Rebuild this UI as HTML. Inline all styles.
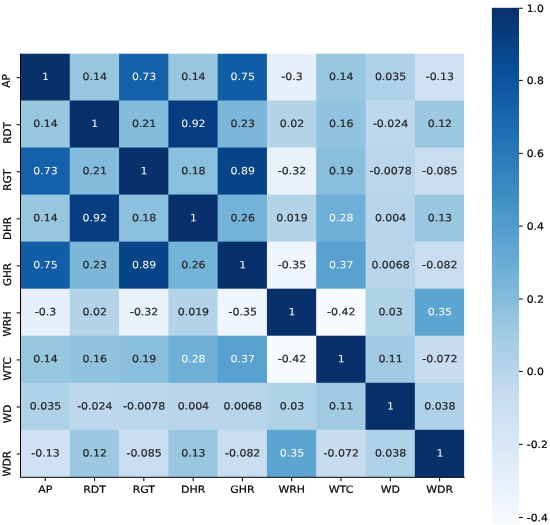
<!DOCTYPE html>
<html><head><meta charset="utf-8"><title>Correlation heatmap</title>
<style>html,body{margin:0;padding:0;background:#fff}body{width:550px;height:525px;overflow:hidden}svg{display:block;text-rendering:geometricPrecision;font-family:"DejaVu Sans","Liberation Sans",sans-serif;font-size:10px}</style></head><body>
<svg width="550" height="525" viewBox="0 0 550 525">
<rect width="550" height="525" fill="#ffffff"/>
<defs><linearGradient id="cb" x1="0" y1="0" x2="0" y2="1"><stop offset="0.0000" stop-color="#08306b"/><stop offset="0.0208" stop-color="#083573"/><stop offset="0.0417" stop-color="#083a7a"/><stop offset="0.0625" stop-color="#084082"/><stop offset="0.0833" stop-color="#08468b"/><stop offset="0.1042" stop-color="#084b93"/><stop offset="0.1250" stop-color="#08509b"/><stop offset="0.1458" stop-color="#0c56a0"/><stop offset="0.1667" stop-color="#105ba4"/><stop offset="0.1875" stop-color="#1460a8"/><stop offset="0.2083" stop-color="#1966ad"/><stop offset="0.2292" stop-color="#1c6bb0"/><stop offset="0.2500" stop-color="#2070b4"/><stop offset="0.2708" stop-color="#2676b8"/><stop offset="0.2917" stop-color="#2c7cba"/><stop offset="0.3125" stop-color="#3181bd"/><stop offset="0.3333" stop-color="#3787c0"/><stop offset="0.3542" stop-color="#3c8cc3"/><stop offset="0.3750" stop-color="#4191c6"/><stop offset="0.3958" stop-color="#4997c9"/><stop offset="0.4167" stop-color="#4f9bcb"/><stop offset="0.4375" stop-color="#56a0ce"/><stop offset="0.4583" stop-color="#5da5d1"/><stop offset="0.4792" stop-color="#64a9d3"/><stop offset="0.5000" stop-color="#6aaed6"/><stop offset="0.5208" stop-color="#74b3d8"/><stop offset="0.5417" stop-color="#7cb7da"/><stop offset="0.5625" stop-color="#84bcdb"/><stop offset="0.5833" stop-color="#8dc1dd"/><stop offset="0.6042" stop-color="#95c5df"/><stop offset="0.6250" stop-color="#9dcae1"/><stop offset="0.6458" stop-color="#a5cde3"/><stop offset="0.6667" stop-color="#abd0e6"/><stop offset="0.6875" stop-color="#b2d2e8"/><stop offset="0.7083" stop-color="#b9d6ea"/><stop offset="0.7292" stop-color="#bfd8ed"/><stop offset="0.7500" stop-color="#c6dbef"/><stop offset="0.7708" stop-color="#cadef0"/><stop offset="0.7917" stop-color="#cee0f2"/><stop offset="0.8125" stop-color="#d2e3f3"/><stop offset="0.8333" stop-color="#d6e6f4"/><stop offset="0.8542" stop-color="#dae8f6"/><stop offset="0.8750" stop-color="#deebf7"/><stop offset="0.8958" stop-color="#e3eef8"/><stop offset="0.9167" stop-color="#e7f0fa"/><stop offset="0.9375" stop-color="#eaf3fb"/><stop offset="0.9583" stop-color="#eff6fc"/><stop offset="0.9792" stop-color="#f3f8fe"/><stop offset="1.0000" stop-color="#f7fbff"/></linearGradient></defs>
<g>
<rect x="20.46" y="53.71" width="49.90" height="47.39" fill="#08306b"/>
<rect x="69.76" y="53.71" width="49.90" height="47.39" fill="#97c6df"/>
<rect x="119.05" y="53.71" width="49.90" height="47.39" fill="#1561a9"/>
<rect x="168.35" y="53.71" width="49.90" height="47.39" fill="#97c6df"/>
<rect x="217.64" y="53.71" width="49.90" height="47.39" fill="#125ea6"/>
<rect x="266.94" y="53.71" width="49.90" height="47.39" fill="#e7f0fa"/>
<rect x="316.23" y="53.71" width="49.90" height="47.39" fill="#97c6df"/>
<rect x="365.53" y="53.71" width="49.90" height="47.39" fill="#afd1e7"/>
<rect x="414.82" y="53.71" width="49.30" height="47.39" fill="#cfe1f2"/>
<rect x="20.46" y="100.50" width="49.90" height="47.64" fill="#97c6df"/>
<rect x="69.76" y="100.50" width="49.90" height="47.64" fill="#08306b"/>
<rect x="119.05" y="100.50" width="49.90" height="47.64" fill="#82bbdb"/>
<rect x="168.35" y="100.50" width="49.90" height="47.64" fill="#083e81"/>
<rect x="217.64" y="100.50" width="49.90" height="47.64" fill="#7cb7da"/>
<rect x="266.94" y="100.50" width="49.90" height="47.64" fill="#b3d3e8"/>
<rect x="316.23" y="100.50" width="49.90" height="47.64" fill="#91c3de"/>
<rect x="365.53" y="100.50" width="49.90" height="47.64" fill="#bdd7ec"/>
<rect x="414.82" y="100.50" width="49.30" height="47.64" fill="#9cc9e1"/>
<rect x="20.46" y="147.55" width="49.90" height="47.64" fill="#1561a9"/>
<rect x="69.76" y="147.55" width="49.90" height="47.64" fill="#82bbdb"/>
<rect x="119.05" y="147.55" width="49.90" height="47.64" fill="#08306b"/>
<rect x="168.35" y="147.55" width="49.90" height="47.64" fill="#8abfdd"/>
<rect x="217.64" y="147.55" width="49.90" height="47.64" fill="#084488"/>
<rect x="266.94" y="147.55" width="49.90" height="47.64" fill="#e9f2fa"/>
<rect x="316.23" y="147.55" width="49.90" height="47.64" fill="#89bedc"/>
<rect x="365.53" y="147.55" width="49.90" height="47.64" fill="#b9d6ea"/>
<rect x="414.82" y="147.55" width="49.30" height="47.64" fill="#c9ddf0"/>
<rect x="20.46" y="194.59" width="49.90" height="47.64" fill="#97c6df"/>
<rect x="69.76" y="194.59" width="49.90" height="47.64" fill="#083e81"/>
<rect x="119.05" y="194.59" width="49.90" height="47.64" fill="#8abfdd"/>
<rect x="168.35" y="194.59" width="49.90" height="47.64" fill="#08306b"/>
<rect x="217.64" y="194.59" width="49.90" height="47.64" fill="#74b3d8"/>
<rect x="266.94" y="194.59" width="49.90" height="47.64" fill="#b3d3e8"/>
<rect x="316.23" y="194.59" width="49.90" height="47.64" fill="#6dafd7"/>
<rect x="365.53" y="194.59" width="49.90" height="47.64" fill="#b7d4ea"/>
<rect x="414.82" y="194.59" width="49.30" height="47.64" fill="#99c7e0"/>
<rect x="20.46" y="241.63" width="49.90" height="47.64" fill="#125ea6"/>
<rect x="69.76" y="241.63" width="49.90" height="47.64" fill="#7cb7da"/>
<rect x="119.05" y="241.63" width="49.90" height="47.64" fill="#084488"/>
<rect x="168.35" y="241.63" width="49.90" height="47.64" fill="#74b3d8"/>
<rect x="217.64" y="241.63" width="49.90" height="47.64" fill="#08306b"/>
<rect x="266.94" y="241.63" width="49.90" height="47.64" fill="#eef5fc"/>
<rect x="316.23" y="241.63" width="49.90" height="47.64" fill="#58a1cf"/>
<rect x="365.53" y="241.63" width="49.90" height="47.64" fill="#b7d4ea"/>
<rect x="414.82" y="241.63" width="49.30" height="47.64" fill="#c9ddf0"/>
<rect x="20.46" y="288.68" width="49.90" height="47.64" fill="#e7f0fa"/>
<rect x="69.76" y="288.68" width="49.90" height="47.64" fill="#b3d3e8"/>
<rect x="119.05" y="288.68" width="49.90" height="47.64" fill="#e9f2fa"/>
<rect x="168.35" y="288.68" width="49.90" height="47.64" fill="#b3d3e8"/>
<rect x="217.64" y="288.68" width="49.90" height="47.64" fill="#eef5fc"/>
<rect x="266.94" y="288.68" width="49.90" height="47.64" fill="#08306b"/>
<rect x="316.23" y="288.68" width="49.90" height="47.64" fill="#f7fbff"/>
<rect x="365.53" y="288.68" width="49.90" height="47.64" fill="#b0d2e7"/>
<rect x="414.82" y="288.68" width="49.30" height="47.64" fill="#5da5d1"/>
<rect x="20.46" y="335.72" width="49.90" height="47.64" fill="#97c6df"/>
<rect x="69.76" y="335.72" width="49.90" height="47.64" fill="#91c3de"/>
<rect x="119.05" y="335.72" width="49.90" height="47.64" fill="#89bedc"/>
<rect x="168.35" y="335.72" width="49.90" height="47.64" fill="#6dafd7"/>
<rect x="217.64" y="335.72" width="49.90" height="47.64" fill="#58a1cf"/>
<rect x="266.94" y="335.72" width="49.90" height="47.64" fill="#f7fbff"/>
<rect x="316.23" y="335.72" width="49.90" height="47.64" fill="#08306b"/>
<rect x="365.53" y="335.72" width="49.90" height="47.64" fill="#9fcae1"/>
<rect x="414.82" y="335.72" width="49.30" height="47.64" fill="#c7dcef"/>
<rect x="20.46" y="382.76" width="49.90" height="47.64" fill="#afd1e7"/>
<rect x="69.76" y="382.76" width="49.90" height="47.64" fill="#bdd7ec"/>
<rect x="119.05" y="382.76" width="49.90" height="47.64" fill="#b9d6ea"/>
<rect x="168.35" y="382.76" width="49.90" height="47.64" fill="#b7d4ea"/>
<rect x="217.64" y="382.76" width="49.90" height="47.64" fill="#b7d4ea"/>
<rect x="266.94" y="382.76" width="49.90" height="47.64" fill="#b0d2e7"/>
<rect x="316.23" y="382.76" width="49.90" height="47.64" fill="#9fcae1"/>
<rect x="365.53" y="382.76" width="49.90" height="47.64" fill="#08306b"/>
<rect x="414.82" y="382.76" width="49.30" height="47.64" fill="#afd1e7"/>
<rect x="20.46" y="429.81" width="49.90" height="47.49" fill="#cfe1f2"/>
<rect x="69.76" y="429.81" width="49.90" height="47.49" fill="#9cc9e1"/>
<rect x="119.05" y="429.81" width="49.90" height="47.49" fill="#c9ddf0"/>
<rect x="168.35" y="429.81" width="49.90" height="47.49" fill="#99c7e0"/>
<rect x="217.64" y="429.81" width="49.90" height="47.49" fill="#c9ddf0"/>
<rect x="266.94" y="429.81" width="49.90" height="47.49" fill="#5da5d1"/>
<rect x="316.23" y="429.81" width="49.90" height="47.49" fill="#c7dcef"/>
<rect x="365.53" y="429.81" width="49.90" height="47.49" fill="#afd1e7"/>
<rect x="414.82" y="429.81" width="49.30" height="47.49" fill="#08306b"/>
</g>
<g text-anchor="middle" stroke-width="0.2">
<text transform="translate(45.51,80.08) scale(1.095,1) rotate(0.03)" fill="#ffffff" stroke="none">1</text>
<text transform="translate(94.80,80.08) scale(1.095,1) rotate(0.03)" fill="#262626" stroke="#262626">0.14</text>
<text transform="translate(144.10,80.08) scale(1.095,1) rotate(0.03)" fill="#ffffff" stroke="none">0.73</text>
<text transform="translate(193.39,80.08) scale(1.095,1) rotate(0.03)" fill="#262626" stroke="#262626">0.14</text>
<text transform="translate(242.69,80.08) scale(1.095,1) rotate(0.03)" fill="#ffffff" stroke="none">0.75</text>
<text transform="translate(291.99,80.08) scale(1.095,1) rotate(0.03)" fill="#262626" stroke="#262626">-0.3</text>
<text transform="translate(341.28,80.08) scale(1.095,1) rotate(0.03)" fill="#262626" stroke="#262626">0.14</text>
<text transform="translate(390.58,80.08) scale(1.095,1) rotate(0.03)" fill="#262626" stroke="#262626">0.035</text>
<text transform="translate(439.87,80.08) scale(1.095,1) rotate(0.03)" fill="#262626" stroke="#262626">-0.13</text>
<text transform="translate(45.51,127.12) scale(1.095,1) rotate(0.03)" fill="#262626" stroke="#262626">0.14</text>
<text transform="translate(94.80,127.12) scale(1.095,1) rotate(0.03)" fill="#ffffff" stroke="none">1</text>
<text transform="translate(144.10,127.12) scale(1.095,1) rotate(0.03)" fill="#262626" stroke="#262626">0.21</text>
<text transform="translate(193.39,127.12) scale(1.095,1) rotate(0.03)" fill="#ffffff" stroke="none">0.92</text>
<text transform="translate(242.69,127.12) scale(1.095,1) rotate(0.03)" fill="#262626" stroke="#262626">0.23</text>
<text transform="translate(291.99,127.12) scale(1.095,1) rotate(0.03)" fill="#262626" stroke="#262626">0.02</text>
<text transform="translate(341.28,127.12) scale(1.095,1) rotate(0.03)" fill="#262626" stroke="#262626">0.16</text>
<text transform="translate(390.58,127.12) scale(1.095,1) rotate(0.03)" fill="#262626" stroke="#262626">-0.024</text>
<text transform="translate(439.87,127.12) scale(1.095,1) rotate(0.03)" fill="#262626" stroke="#262626">0.12</text>
<text transform="translate(45.51,174.17) scale(1.095,1) rotate(0.03)" fill="#ffffff" stroke="none">0.73</text>
<text transform="translate(94.80,174.17) scale(1.095,1) rotate(0.03)" fill="#262626" stroke="#262626">0.21</text>
<text transform="translate(144.10,174.17) scale(1.095,1) rotate(0.03)" fill="#ffffff" stroke="none">1</text>
<text transform="translate(193.39,174.17) scale(1.095,1) rotate(0.03)" fill="#262626" stroke="#262626">0.18</text>
<text transform="translate(242.69,174.17) scale(1.095,1) rotate(0.03)" fill="#ffffff" stroke="none">0.89</text>
<text transform="translate(291.99,174.17) scale(1.095,1) rotate(0.03)" fill="#262626" stroke="#262626">-0.32</text>
<text transform="translate(341.28,174.17) scale(1.095,1) rotate(0.03)" fill="#262626" stroke="#262626">0.19</text>
<text transform="translate(390.58,174.17) scale(1.095,1) rotate(0.03)" fill="#262626" stroke="#262626">-0.0078</text>
<text transform="translate(439.87,174.17) scale(1.095,1) rotate(0.03)" fill="#262626" stroke="#262626">-0.085</text>
<text transform="translate(45.51,221.21) scale(1.095,1) rotate(0.03)" fill="#262626" stroke="#262626">0.14</text>
<text transform="translate(94.80,221.21) scale(1.095,1) rotate(0.03)" fill="#ffffff" stroke="none">0.92</text>
<text transform="translate(144.10,221.21) scale(1.095,1) rotate(0.03)" fill="#262626" stroke="#262626">0.18</text>
<text transform="translate(193.39,221.21) scale(1.095,1) rotate(0.03)" fill="#ffffff" stroke="none">1</text>
<text transform="translate(242.69,221.21) scale(1.095,1) rotate(0.03)" fill="#262626" stroke="#262626">0.26</text>
<text transform="translate(291.99,221.21) scale(1.095,1) rotate(0.03)" fill="#262626" stroke="#262626">0.019</text>
<text transform="translate(341.28,221.21) scale(1.095,1) rotate(0.03)" fill="#ffffff" stroke="none">0.28</text>
<text transform="translate(390.58,221.21) scale(1.095,1) rotate(0.03)" fill="#262626" stroke="#262626">0.004</text>
<text transform="translate(439.87,221.21) scale(1.095,1) rotate(0.03)" fill="#262626" stroke="#262626">0.13</text>
<text transform="translate(45.51,268.26) scale(1.095,1) rotate(0.03)" fill="#ffffff" stroke="none">0.75</text>
<text transform="translate(94.80,268.26) scale(1.095,1) rotate(0.03)" fill="#262626" stroke="#262626">0.23</text>
<text transform="translate(144.10,268.26) scale(1.095,1) rotate(0.03)" fill="#ffffff" stroke="none">0.89</text>
<text transform="translate(193.39,268.26) scale(1.095,1) rotate(0.03)" fill="#262626" stroke="#262626">0.26</text>
<text transform="translate(242.69,268.26) scale(1.095,1) rotate(0.03)" fill="#ffffff" stroke="none">1</text>
<text transform="translate(291.99,268.26) scale(1.095,1) rotate(0.03)" fill="#262626" stroke="#262626">-0.35</text>
<text transform="translate(341.28,268.26) scale(1.095,1) rotate(0.03)" fill="#ffffff" stroke="none">0.37</text>
<text transform="translate(390.58,268.26) scale(1.095,1) rotate(0.03)" fill="#262626" stroke="#262626">0.0068</text>
<text transform="translate(439.87,268.26) scale(1.095,1) rotate(0.03)" fill="#262626" stroke="#262626">-0.082</text>
<text transform="translate(45.51,315.30) scale(1.095,1) rotate(0.03)" fill="#262626" stroke="#262626">-0.3</text>
<text transform="translate(94.80,315.30) scale(1.095,1) rotate(0.03)" fill="#262626" stroke="#262626">0.02</text>
<text transform="translate(144.10,315.30) scale(1.095,1) rotate(0.03)" fill="#262626" stroke="#262626">-0.32</text>
<text transform="translate(193.39,315.30) scale(1.095,1) rotate(0.03)" fill="#262626" stroke="#262626">0.019</text>
<text transform="translate(242.69,315.30) scale(1.095,1) rotate(0.03)" fill="#262626" stroke="#262626">-0.35</text>
<text transform="translate(291.99,315.30) scale(1.095,1) rotate(0.03)" fill="#ffffff" stroke="none">1</text>
<text transform="translate(341.28,315.30) scale(1.095,1) rotate(0.03)" fill="#262626" stroke="#262626">-0.42</text>
<text transform="translate(390.58,315.30) scale(1.095,1) rotate(0.03)" fill="#262626" stroke="#262626">0.03</text>
<text transform="translate(439.87,315.30) scale(1.095,1) rotate(0.03)" fill="#ffffff" stroke="none">0.35</text>
<text transform="translate(45.51,362.34) scale(1.095,1) rotate(0.03)" fill="#262626" stroke="#262626">0.14</text>
<text transform="translate(94.80,362.34) scale(1.095,1) rotate(0.03)" fill="#262626" stroke="#262626">0.16</text>
<text transform="translate(144.10,362.34) scale(1.095,1) rotate(0.03)" fill="#262626" stroke="#262626">0.19</text>
<text transform="translate(193.39,362.34) scale(1.095,1) rotate(0.03)" fill="#ffffff" stroke="none">0.28</text>
<text transform="translate(242.69,362.34) scale(1.095,1) rotate(0.03)" fill="#ffffff" stroke="none">0.37</text>
<text transform="translate(291.99,362.34) scale(1.095,1) rotate(0.03)" fill="#262626" stroke="#262626">-0.42</text>
<text transform="translate(341.28,362.34) scale(1.095,1) rotate(0.03)" fill="#ffffff" stroke="none">1</text>
<text transform="translate(390.58,362.34) scale(1.095,1) rotate(0.03)" fill="#262626" stroke="#262626">0.11</text>
<text transform="translate(439.87,362.34) scale(1.095,1) rotate(0.03)" fill="#262626" stroke="#262626">-0.072</text>
<text transform="translate(45.51,409.39) scale(1.095,1) rotate(0.03)" fill="#262626" stroke="#262626">0.035</text>
<text transform="translate(94.80,409.39) scale(1.095,1) rotate(0.03)" fill="#262626" stroke="#262626">-0.024</text>
<text transform="translate(144.10,409.39) scale(1.095,1) rotate(0.03)" fill="#262626" stroke="#262626">-0.0078</text>
<text transform="translate(193.39,409.39) scale(1.095,1) rotate(0.03)" fill="#262626" stroke="#262626">0.004</text>
<text transform="translate(242.69,409.39) scale(1.095,1) rotate(0.03)" fill="#262626" stroke="#262626">0.0068</text>
<text transform="translate(291.99,409.39) scale(1.095,1) rotate(0.03)" fill="#262626" stroke="#262626">0.03</text>
<text transform="translate(341.28,409.39) scale(1.095,1) rotate(0.03)" fill="#262626" stroke="#262626">0.11</text>
<text transform="translate(390.58,409.39) scale(1.095,1) rotate(0.03)" fill="#ffffff" stroke="none">1</text>
<text transform="translate(439.87,409.39) scale(1.095,1) rotate(0.03)" fill="#262626" stroke="#262626">0.038</text>
<text transform="translate(45.51,456.43) scale(1.095,1) rotate(0.03)" fill="#262626" stroke="#262626">-0.13</text>
<text transform="translate(94.80,456.43) scale(1.095,1) rotate(0.03)" fill="#262626" stroke="#262626">0.12</text>
<text transform="translate(144.10,456.43) scale(1.095,1) rotate(0.03)" fill="#262626" stroke="#262626">-0.085</text>
<text transform="translate(193.39,456.43) scale(1.095,1) rotate(0.03)" fill="#262626" stroke="#262626">0.13</text>
<text transform="translate(242.69,456.43) scale(1.095,1) rotate(0.03)" fill="#262626" stroke="#262626">-0.082</text>
<text transform="translate(291.99,456.43) scale(1.095,1) rotate(0.03)" fill="#ffffff" stroke="none">0.35</text>
<text transform="translate(341.28,456.43) scale(1.095,1) rotate(0.03)" fill="#262626" stroke="#262626">-0.072</text>
<text transform="translate(390.58,456.43) scale(1.095,1) rotate(0.03)" fill="#262626" stroke="#262626">0.038</text>
<text transform="translate(439.87,456.43) scale(1.095,1) rotate(0.03)" fill="#ffffff" stroke="none">1</text>
</g>
<path d="M20.51 53.71 V477.30 H464.72" fill="none" stroke="#000" stroke-width="1" stroke-linejoin="miter"/>
<path d="M20.46 77.68 h-3.80 M45.26 477.30 v3.90 M20.46 124.73 h-3.80 M94.55 477.30 v3.90 M20.46 171.77 h-3.80 M143.85 477.30 v3.90 M20.46 218.81 h-3.80 M193.14 477.30 v3.90 M20.46 265.86 h-3.80 M242.44 477.30 v3.90 M20.46 312.90 h-3.80 M291.74 477.30 v3.90 M20.46 359.94 h-3.80 M341.03 477.30 v3.90 M20.46 406.99 h-3.80 M390.33 477.30 v3.90 M20.46 454.03 h-3.80 M439.62 477.30 v3.90" stroke="#000" stroke-width="1" fill="none"/>
<g text-anchor="middle" fill="#000" stroke="#000" stroke-width="0.2" style="font-size:9.8px">
<text transform="translate(45.26,492.80) scale(1.11735,1) rotate(0.03)">AP</text>
<text transform="translate(94.55,492.80) scale(1.11735,1) rotate(0.03)">RDT</text>
<text transform="translate(143.85,492.80) scale(1.11735,1) rotate(0.03)">RGT</text>
<text transform="translate(193.14,492.80) scale(1.11735,1) rotate(0.03)">DHR</text>
<text transform="translate(242.44,492.80) scale(1.11735,1) rotate(0.03)">GHR</text>
<text transform="translate(291.74,492.80) scale(1.11735,1) rotate(0.03)">WRH</text>
<text transform="translate(341.03,492.80) scale(1.11735,1) rotate(0.03)">WTC</text>
<text transform="translate(390.33,492.80) scale(1.11735,1) rotate(0.03)">WD</text>
<text transform="translate(439.62,492.80) scale(1.11735,1) rotate(0.03)">WDR</text>
</g>
<g text-anchor="end" fill="#000" stroke="#000" stroke-width="0.2" style="font-size:10.4px">
<text transform="translate(9.85,74.29) scale(1.02,1) rotate(-89.97)">AP</text>
<text transform="translate(10.95,122.19) scale(1.02,1) rotate(-89.97)">RDT</text>
<text transform="translate(10.95,169.44) scale(1.02,1) rotate(-89.97)">RGT</text>
<text transform="translate(10.95,217.05) scale(1.02,1) rotate(-89.97)">DHR</text>
<text transform="translate(10.95,262.95) scale(1.02,1) rotate(-89.97)">GHR</text>
<text transform="translate(10.70,311.31) scale(1.02,1) rotate(-89.97)">WRH</text>
<text transform="translate(10.95,357.30) scale(1.02,1) rotate(-89.97)">WTC</text>
<text transform="translate(10.95,404.86) scale(1.02,1) rotate(-89.97)">WD</text>
<text transform="translate(10.50,451.03) scale(1.02,1) rotate(-89.97)">WDR</text>
</g>
<rect x="491.85" y="7.80" width="27.15" height="516.20" fill="url(#cb)"/>
<g fill="#000" stroke="#000" stroke-width="0.2">
<text transform="translate(526.75,11.88) scale(1.08,1) rotate(0.03)">1.0</text>
<text transform="translate(526.75,84.01) scale(1.08,1) rotate(0.03)">0.8</text>
<text transform="translate(526.75,157.01) scale(1.08,1) rotate(0.03)">0.6</text>
<text transform="translate(526.75,229.75) scale(1.08,1) rotate(0.03)">0.4</text>
<text transform="translate(526.75,302.63) scale(1.08,1) rotate(0.03)">0.2</text>
<text transform="translate(526.75,375.08) scale(1.08,1) rotate(0.03)">0.0</text>
<text transform="translate(526.75,448.01) scale(1.08,1) rotate(0.03)">-0.2</text>
<text transform="translate(526.75,521.15) scale(1.08,1) rotate(0.03)">-0.4</text>
</g>
<path d="M519.00 8.23 h3.80 M519.00 80.36 h3.80 M519.00 153.36 h3.80 M519.00 226.10 h3.80 M519.00 298.98 h3.80 M519.00 371.43 h3.80 M519.00 444.36 h3.80 M519.00 517.50 h3.80" stroke="#000" stroke-width="1" fill="none"/>
</svg></body></html>
